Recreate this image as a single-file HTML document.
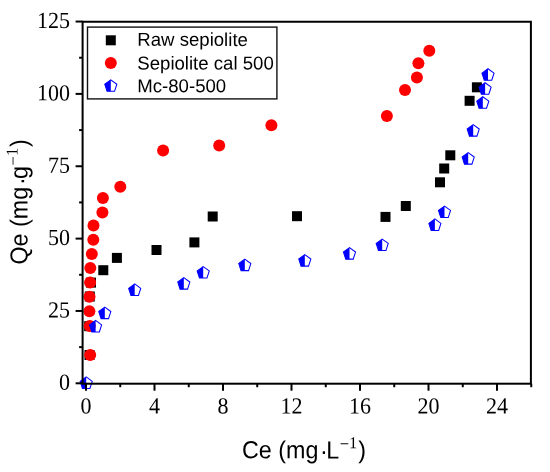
<!DOCTYPE html><html><head><meta charset="utf-8"><style>
html,body{margin:0;padding:0;background:#fff;}
svg{display:block;}
.tk{font-family:"Liberation Serif",serif;font-size:22px;fill:#000;}
.lg{font-family:"Liberation Sans",sans-serif;font-size:18.6px;fill:#000;}
.at{font-family:"Liberation Sans",sans-serif;font-size:23.3px;fill:#000;}
.sup{font-family:"Liberation Serif",serif;font-size:16.5px;fill:#000;}
</style></head><body><svg width="550" height="472" viewBox="0 0 550 472">
<rect width="550" height="472" fill="#fff"/>
<rect x="84.50" y="350.00" width="10.0" height="10.0" fill="#000"/>
<rect x="84.20" y="321.20" width="10.0" height="10.0" fill="#000"/>
<rect x="84.80" y="291.50" width="10.0" height="10.0" fill="#000"/>
<rect x="86.00" y="277.60" width="10.0" height="10.0" fill="#000"/>
<rect x="98.30" y="265.20" width="10.0" height="10.0" fill="#000"/>
<rect x="111.90" y="252.90" width="10.0" height="10.0" fill="#000"/>
<rect x="151.50" y="245.00" width="10.0" height="10.0" fill="#000"/>
<rect x="189.40" y="237.40" width="10.0" height="10.0" fill="#000"/>
<rect x="207.70" y="211.50" width="10.0" height="10.0" fill="#000"/>
<rect x="292.00" y="211.20" width="10.0" height="10.0" fill="#000"/>
<rect x="380.50" y="211.90" width="10.0" height="10.0" fill="#000"/>
<rect x="400.80" y="201.00" width="10.0" height="10.0" fill="#000"/>
<rect x="435.00" y="177.30" width="10.0" height="10.0" fill="#000"/>
<rect x="439.20" y="163.50" width="10.0" height="10.0" fill="#000"/>
<rect x="445.30" y="150.30" width="10.0" height="10.0" fill="#000"/>
<rect x="464.60" y="95.80" width="10.0" height="10.0" fill="#000"/>
<rect x="471.90" y="82.30" width="10.0" height="10.0" fill="#000"/>
<circle cx="90.20" cy="355.00" r="6.0" fill="#f00"/>
<circle cx="89.70" cy="325.90" r="6.0" fill="#f00"/>
<circle cx="89.40" cy="311.20" r="6.0" fill="#f00"/>
<circle cx="89.50" cy="296.70" r="6.0" fill="#f00"/>
<circle cx="90.10" cy="282.60" r="6.0" fill="#f00"/>
<circle cx="90.30" cy="268.00" r="6.0" fill="#f00"/>
<circle cx="91.80" cy="254.00" r="6.0" fill="#f00"/>
<circle cx="93.30" cy="239.80" r="6.0" fill="#f00"/>
<circle cx="93.50" cy="225.40" r="6.0" fill="#f00"/>
<circle cx="102.40" cy="212.40" r="6.0" fill="#f00"/>
<circle cx="102.90" cy="198.00" r="6.0" fill="#f00"/>
<circle cx="120.30" cy="186.80" r="6.0" fill="#f00"/>
<circle cx="163.10" cy="150.40" r="6.0" fill="#f00"/>
<circle cx="219.20" cy="145.40" r="6.0" fill="#f00"/>
<circle cx="271.40" cy="125.20" r="6.0" fill="#f00"/>
<circle cx="386.90" cy="116.00" r="6.0" fill="#f00"/>
<circle cx="405.00" cy="89.90" r="6.0" fill="#f00"/>
<circle cx="416.90" cy="77.50" r="6.0" fill="#f00"/>
<circle cx="418.40" cy="63.20" r="6.0" fill="#f00"/>
<circle cx="429.30" cy="50.80" r="6.0" fill="#f00"/>
<polygon points="86.20,376.95 80.16,381.34 82.47,388.44 86.20,388.44" fill="#00f"/><polygon points="86.20,376.95 92.24,381.34 89.93,388.44 82.47,388.44 80.16,381.34" fill="none" stroke="#00f" stroke-width="1.05"/>
<polygon points="95.60,320.45 89.56,324.84 91.87,331.94 95.60,331.94" fill="#00f"/><polygon points="95.60,320.45 101.64,324.84 99.33,331.94 91.87,331.94 89.56,324.84" fill="none" stroke="#00f" stroke-width="1.05"/>
<polygon points="104.80,307.15 98.76,311.54 101.07,318.64 104.80,318.64" fill="#00f"/><polygon points="104.80,307.15 110.84,311.54 108.53,318.64 101.07,318.64 98.76,311.54" fill="none" stroke="#00f" stroke-width="1.05"/>
<polygon points="134.70,283.95 128.66,288.34 130.97,295.44 134.70,295.44" fill="#00f"/><polygon points="134.70,283.95 140.74,288.34 138.43,295.44 130.97,295.44 128.66,288.34" fill="none" stroke="#00f" stroke-width="1.05"/>
<polygon points="183.80,277.65 177.76,282.04 180.07,289.14 183.80,289.14" fill="#00f"/><polygon points="183.80,277.65 189.84,282.04 187.53,289.14 180.07,289.14 177.76,282.04" fill="none" stroke="#00f" stroke-width="1.05"/>
<polygon points="203.20,266.55 197.16,270.94 199.47,278.04 203.20,278.04" fill="#00f"/><polygon points="203.20,266.55 209.24,270.94 206.93,278.04 199.47,278.04 197.16,270.94" fill="none" stroke="#00f" stroke-width="1.05"/>
<polygon points="244.80,259.15 238.76,263.54 241.07,270.64 244.80,270.64" fill="#00f"/><polygon points="244.80,259.15 250.84,263.54 248.53,270.64 241.07,270.64 238.76,263.54" fill="none" stroke="#00f" stroke-width="1.05"/>
<polygon points="304.80,254.65 298.76,259.04 301.07,266.14 304.80,266.14" fill="#00f"/><polygon points="304.80,254.65 310.84,259.04 308.53,266.14 301.07,266.14 298.76,259.04" fill="none" stroke="#00f" stroke-width="1.05"/>
<polygon points="349.50,247.65 343.46,252.04 345.77,259.14 349.50,259.14" fill="#00f"/><polygon points="349.50,247.65 355.54,252.04 353.23,259.14 345.77,259.14 343.46,252.04" fill="none" stroke="#00f" stroke-width="1.05"/>
<polygon points="382.20,239.05 376.16,243.44 378.47,250.54 382.20,250.54" fill="#00f"/><polygon points="382.20,239.05 388.24,243.44 385.93,250.54 378.47,250.54 376.16,243.44" fill="none" stroke="#00f" stroke-width="1.05"/>
<polygon points="434.90,218.95 428.86,223.34 431.17,230.44 434.90,230.44" fill="#00f"/><polygon points="434.90,218.95 440.94,223.34 438.63,230.44 431.17,230.44 428.86,223.34" fill="none" stroke="#00f" stroke-width="1.05"/>
<polygon points="444.50,206.05 438.46,210.44 440.77,217.54 444.50,217.54" fill="#00f"/><polygon points="444.50,206.05 450.54,210.44 448.23,217.54 440.77,217.54 438.46,210.44" fill="none" stroke="#00f" stroke-width="1.05"/>
<polygon points="468.20,152.65 462.16,157.04 464.47,164.14 468.20,164.14" fill="#00f"/><polygon points="468.20,152.65 474.24,157.04 471.93,164.14 464.47,164.14 462.16,157.04" fill="none" stroke="#00f" stroke-width="1.05"/>
<polygon points="473.20,124.65 467.16,129.04 469.47,136.14 473.20,136.14" fill="#00f"/><polygon points="473.20,124.65 479.24,129.04 476.93,136.14 469.47,136.14 467.16,129.04" fill="none" stroke="#00f" stroke-width="1.05"/>
<polygon points="482.80,96.75 476.76,101.14 479.07,108.24 482.80,108.24" fill="#00f"/><polygon points="482.80,96.75 488.84,101.14 486.53,108.24 479.07,108.24 476.76,101.14" fill="none" stroke="#00f" stroke-width="1.05"/>
<polygon points="485.10,82.75 479.06,87.14 481.37,94.24 485.10,94.24" fill="#00f"/><polygon points="485.10,82.75 491.14,87.14 488.83,94.24 481.37,94.24 479.06,87.14" fill="none" stroke="#00f" stroke-width="1.05"/>
<polygon points="488.00,68.75 481.96,73.14 484.27,80.24 488.00,80.24" fill="#00f"/><polygon points="488.00,68.75 494.04,73.14 491.73,80.24 484.27,80.24 481.96,73.14" fill="none" stroke="#00f" stroke-width="1.05"/>
<rect x="82.6" y="21.75" width="448.30" height="361.95" fill="none" stroke="#000" stroke-width="2"/>
<line x1="86.00" y1="383.7" x2="86.00" y2="390.7" stroke="#000" stroke-width="2"/>
<line x1="120.25" y1="383.7" x2="120.25" y2="387.2" stroke="#000" stroke-width="2"/>
<line x1="154.50" y1="383.7" x2="154.50" y2="390.7" stroke="#000" stroke-width="2"/>
<line x1="188.75" y1="383.7" x2="188.75" y2="387.2" stroke="#000" stroke-width="2"/>
<line x1="223.00" y1="383.7" x2="223.00" y2="390.7" stroke="#000" stroke-width="2"/>
<line x1="257.25" y1="383.7" x2="257.25" y2="387.2" stroke="#000" stroke-width="2"/>
<line x1="291.50" y1="383.7" x2="291.50" y2="390.7" stroke="#000" stroke-width="2"/>
<line x1="325.75" y1="383.7" x2="325.75" y2="387.2" stroke="#000" stroke-width="2"/>
<line x1="360.00" y1="383.7" x2="360.00" y2="390.7" stroke="#000" stroke-width="2"/>
<line x1="394.25" y1="383.7" x2="394.25" y2="387.2" stroke="#000" stroke-width="2"/>
<line x1="428.50" y1="383.7" x2="428.50" y2="390.7" stroke="#000" stroke-width="2"/>
<line x1="462.75" y1="383.7" x2="462.75" y2="387.2" stroke="#000" stroke-width="2"/>
<line x1="497.00" y1="383.7" x2="497.00" y2="390.7" stroke="#000" stroke-width="2"/>
<line x1="531.25" y1="383.7" x2="531.25" y2="387.2" stroke="#000" stroke-width="2"/>
<text transform="translate(86.00,413.6) scale(1,1.05) rotate(0.05)" text-anchor="middle" class="tk">0</text>
<text transform="translate(154.50,413.6) scale(1,1.05) rotate(0.05)" text-anchor="middle" class="tk">4</text>
<text transform="translate(223.00,413.6) scale(1,1.05) rotate(0.05)" text-anchor="middle" class="tk">8</text>
<text transform="translate(291.50,413.6) scale(1,1.05) rotate(0.05)" text-anchor="middle" class="tk">12</text>
<text transform="translate(360.00,413.6) scale(1,1.05) rotate(0.05)" text-anchor="middle" class="tk">16</text>
<text transform="translate(428.50,413.6) scale(1,1.05) rotate(0.05)" text-anchor="middle" class="tk">20</text>
<text transform="translate(497.00,413.6) scale(1,1.05) rotate(0.05)" text-anchor="middle" class="tk">24</text>
<line x1="75.6" y1="383.30" x2="82.6" y2="383.30" stroke="#000" stroke-width="2"/>
<line x1="79.1" y1="347.12" x2="82.6" y2="347.12" stroke="#000" stroke-width="2"/>
<line x1="75.6" y1="310.95" x2="82.6" y2="310.95" stroke="#000" stroke-width="2"/>
<line x1="79.1" y1="274.77" x2="82.6" y2="274.77" stroke="#000" stroke-width="2"/>
<line x1="75.6" y1="238.60" x2="82.6" y2="238.60" stroke="#000" stroke-width="2"/>
<line x1="79.1" y1="202.43" x2="82.6" y2="202.43" stroke="#000" stroke-width="2"/>
<line x1="75.6" y1="166.25" x2="82.6" y2="166.25" stroke="#000" stroke-width="2"/>
<line x1="79.1" y1="130.07" x2="82.6" y2="130.07" stroke="#000" stroke-width="2"/>
<line x1="75.6" y1="93.90" x2="82.6" y2="93.90" stroke="#000" stroke-width="2"/>
<line x1="79.1" y1="57.73" x2="82.6" y2="57.73" stroke="#000" stroke-width="2"/>
<line x1="75.6" y1="21.55" x2="82.6" y2="21.55" stroke="#000" stroke-width="2"/>
<text transform="translate(70.0,389.80) scale(1,1.05) rotate(0.05)" text-anchor="end" class="tk">0</text>
<text transform="translate(70.0,317.45) scale(1,1.05) rotate(0.05)" text-anchor="end" class="tk">25</text>
<text transform="translate(70.0,245.10) scale(1,1.05) rotate(0.05)" text-anchor="end" class="tk">50</text>
<text transform="translate(70.0,172.75) scale(1,1.05) rotate(0.05)" text-anchor="end" class="tk">75</text>
<text transform="translate(70.0,100.40) scale(1,1.05) rotate(0.05)" text-anchor="end" class="tk">100</text>
<text transform="translate(70.0,28.05) scale(1,1.05) rotate(0.05)" text-anchor="end" class="tk">125</text>
<rect x="87.5" y="27.1" width="189.4" height="71.8" fill="#fff" stroke="#111" stroke-width="1.4"/>
<rect x="105.8" y="35.3" width="10.0" height="10.0" fill="#000"/>
<circle cx="110.8" cy="63" r="6.0" fill="#f00"/>
<polygon points="110.80,79.85 104.76,84.24 107.07,91.34 110.80,91.34" fill="#00f"/><polygon points="110.80,79.85 116.84,84.24 114.53,91.34 107.07,91.34 104.76,84.24" fill="none" stroke="#00f" stroke-width="1.05"/>
<text transform="translate(137.3,45.8) scale(1,1.0) rotate(0.05)" class="lg">Raw sepiolite</text>
<text transform="translate(137.3,69.4) scale(1,1.0) rotate(0.05)" class="lg">Sepiolite cal 500</text>
<text transform="translate(137.3,92.2) scale(1,1.0) rotate(0.05)" class="lg">Mc-80-500</text>
<text transform="translate(242,458.3) scale(1,1.06) rotate(0.05)" class="at">Ce (mg<tspan dx="1.6" dy="0.9">·</tspan><tspan dx="-1.6" dy="-0.9">L</tspan></text>
<text transform="translate(339.8,448.3) rotate(0.05)" class="sup"><tspan dy="0.9">−</tspan><tspan dy="-0.9">1</tspan></text>
<text transform="translate(358.3,458.3) scale(1,1.06) rotate(0.05)" class="at">)</text>
<text transform="translate(27.5,264.5) rotate(-90) scale(1,1.06) rotate(0.05)" class="at">Qe (mg<tspan dx="1.8" dy="1.8">·</tspan><tspan dx="-1.8" dy="-1.8">g</tspan></text>
<text transform="translate(17.5,165.39999999999998) rotate(-90) rotate(0.05)" class="sup"><tspan dy="0.9">−</tspan><tspan dy="-0.9">1</tspan></text>
<text transform="translate(27.5,146.89999999999998) rotate(-90) scale(1,1.06) rotate(0.05)" class="at">)</text>
</svg></body></html>
